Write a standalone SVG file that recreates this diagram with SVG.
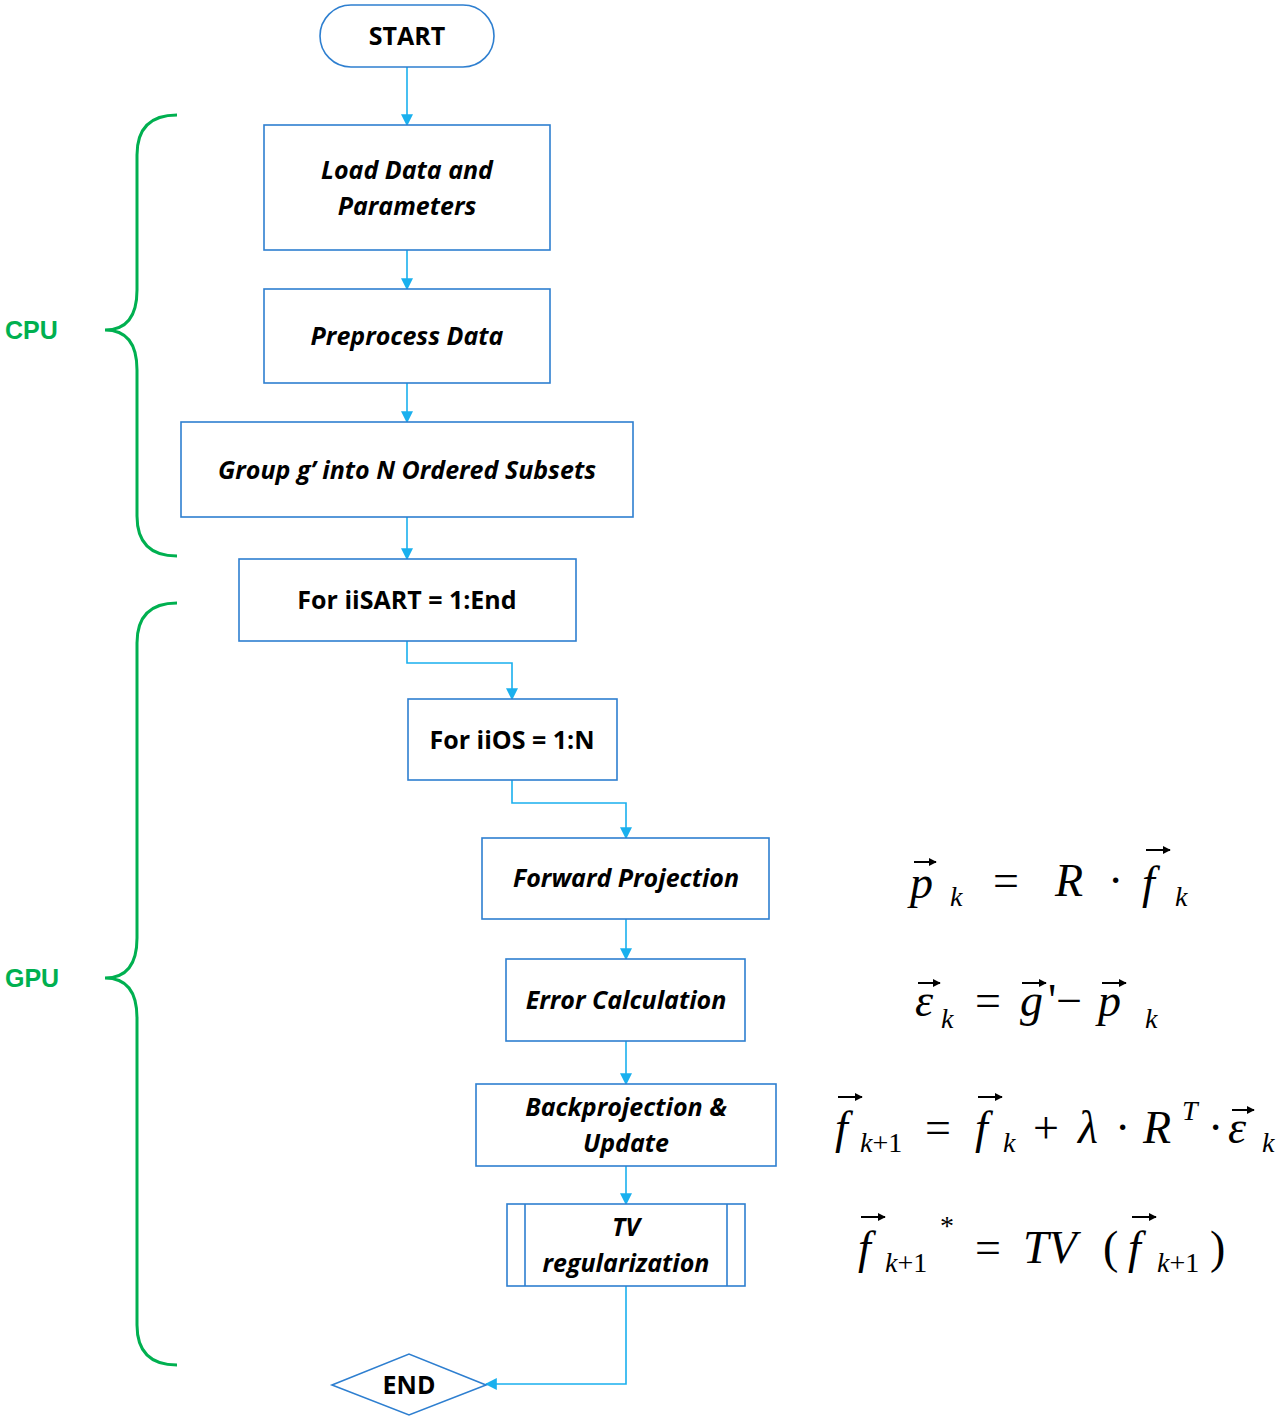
<svg xmlns="http://www.w3.org/2000/svg" width="1284" height="1421" viewBox="0 0 1284 1421">
<style>
.box{fill:#fff;stroke:#2e7fd0;stroke-width:1.6}
.c{fill:none;stroke:#1ab0ee;stroke-width:1.6}
.br{fill:none;stroke:#00b050;stroke-width:3}
.t{font-family:"Open Sans","Liberation Sans",sans-serif;font-size:25px;font-weight:bold;font-style:italic;text-anchor:middle;fill:#000}
.n{font-style:normal}
.g{font-family:"Liberation Sans",sans-serif;font-size:25px;font-weight:bold;fill:#00b050}
.m{font-family:"Liberation Serif",serif;font-size:46px;font-style:italic;fill:#000}
.s{font-size:28px}
.r{font-style:normal}
.v{fill:none;stroke:#000;stroke-width:2}
</style>
<defs>
<marker id="a2" viewBox="0 0 10 10" refX="9" refY="5" markerWidth="12" markerHeight="12" orient="auto" markerUnits="userSpaceOnUse"><path d="M0,0L10,5L0,10z" fill="#1ab0ee"/></marker>
<marker id="va" viewBox="0 0 10 10" refX="9" refY="5" markerWidth="8" markerHeight="8" orient="auto" markerUnits="userSpaceOnUse"><path d="M0,0L10,5L0,10z" fill="#000"/></marker>
</defs>
<g id="connectors">
<path class="c" marker-end="url(#a2)" d="M407,67V125"/>
<path class="c" marker-end="url(#a2)" d="M407,250V289"/>
<path class="c" marker-end="url(#a2)" d="M407,383V422"/>
<path class="c" marker-end="url(#a2)" d="M407,517V559"/>
<path class="c" marker-end="url(#a2)" d="M407,641V663H512V699"/>
<path class="c" marker-end="url(#a2)" d="M512,780V803H626V838"/>
<path class="c" marker-end="url(#a2)" d="M626,919V959"/>
<path class="c" marker-end="url(#a2)" d="M626,1041V1084"/>
<path class="c" marker-end="url(#a2)" d="M626,1166V1204"/>
<path class="c" marker-end="url(#a2)" d="M626,1286V1384H486"/>
</g>
<g id="start"><rect class="box" x="320" y="5" width="174" height="62" rx="31"/><text class="t n" x="407" y="45">START</text></g>
<g id="load"><rect class="box" x="264" y="125" width="286" height="125"/><text class="t" x="407" y="179">Load Data and</text><text class="t" x="407" y="215">Parameters</text></g>
<g id="pre"><rect class="box" x="264" y="289" width="286" height="94"/><text class="t" x="407" y="345">Preprocess Data</text></g>
<g id="group"><rect class="box" x="181" y="422" width="452" height="95"/><text class="t" x="407" y="479">Group g’  into N Ordered Subsets</text></g>
<g id="sart"><rect class="box" x="239" y="559" width="337" height="82"/><text class="t n" x="407" y="609">For iiSART = 1:End</text></g>
<g id="ios"><rect class="box" x="408" y="699" width="209" height="81"/><text class="t n" x="512" y="749">For iiOS = 1:N</text></g>
<g id="fwd"><rect class="box" x="482" y="838" width="287" height="81"/><text class="t" x="626" y="887">Forward Projection</text></g>
<g id="err"><rect class="box" x="506" y="959" width="239" height="82"/><text class="t" x="626" y="1009">Error Calculation</text></g>
<g id="bp"><rect class="box" x="476" y="1084" width="300" height="82"/><text class="t" x="626" y="1116">Backprojection &amp;</text><text class="t" x="626" y="1152">Update</text></g>
<g id="tv"><rect class="box" x="507" y="1204" width="238" height="82"/><path class="box" d="M525,1204V1286M727,1204V1286"/><text class="t" x="626" y="1236">TV</text><text class="t" x="626" y="1272">regularization</text></g>
<g id="end"><path class="box" d="M332,1385L409,1354L486,1385L409,1415z"/><text class="t n" x="409" y="1394">END</text></g>
<g id="braces">
<path class="br" d="M177,115Q137,115 137,155L137,290Q137,330 105,330Q137,330 137,370L137,516Q137,556 177,556"/>
<path class="br" d="M177,603Q137,603 137,643L137,938Q137,978 105,978Q137,978 137,1018L137,1325Q137,1365 177,1365"/>
<text class="g" x="5" y="339">CPU</text><text class="g" x="5" y="987">GPU</text>
</g>
<g id="eqs" class="m">
<text x="910" y="898">p</text><text class="s" x="950" y="906">k</text>
<text class="r" x="993" y="896">=</text><text x="1055" y="896">R</text><text class="r" x="1108" y="896">·</text>
<text x="1142" y="898">f</text><text class="s" x="1175" y="906">k</text>
<text x="915" y="1016">ε</text><text class="s" x="941" y="1028">k</text>
<text class="r" x="975" y="1016">=</text><text x="1020" y="1016">g</text><text class="r" x="1048" y="1016">'−</text>
<text x="1098" y="1016">p</text><text class="s" x="1145" y="1028">k</text>
<text x="835" y="1143">f</text><text class="s" x="860" y="1152">k<tspan class="r">+1</tspan></text>
<text class="r" x="925" y="1143">=</text><text x="975" y="1143">f</text><text class="s" x="1003" y="1152">k</text>
<text class="r" x="1033" y="1143">+</text><text x="1078" y="1143">λ</text><text class="r" x="1115" y="1143">·</text><text x="1143" y="1143">R</text><text class="s" x="1182" y="1120">T</text>
<text class="r" x="1208" y="1143">·</text><text x="1228" y="1143">ε</text><text class="s" x="1262" y="1152">k</text>
<text x="858" y="1263">f</text><text class="s" x="885" y="1272">k<tspan class="r">+1</tspan></text><text class="s r" x="940" y="1235">*</text>
<text class="r" x="975" y="1263">=</text><text x="1023" y="1263">TV</text><text class="r" x="1103" y="1263">(</text>
<text x="1128" y="1263">f</text><text class="s" x="1157" y="1272">k<tspan class="r">+1</tspan></text><text class="r" x="1210" y="1263">)</text>
</g>
<g id="vecs" class="v">
<path marker-end="url(#va)" d="M914,862H936"/>
<path marker-end="url(#va)" d="M1146,850H1170"/>
<path marker-end="url(#va)" d="M918,983H940"/>
<path marker-end="url(#va)" d="M1022,983H1046"/>
<path marker-end="url(#va)" d="M1102,983H1126"/>
<path marker-end="url(#va)" d="M838,1097H862"/>
<path marker-end="url(#va)" d="M978,1097H1002"/>
<path marker-end="url(#va)" d="M1232,1110H1254"/>
<path marker-end="url(#va)" d="M861,1217H885"/>
<path marker-end="url(#va)" d="M1132,1217H1156"/>
</g>
</svg>
